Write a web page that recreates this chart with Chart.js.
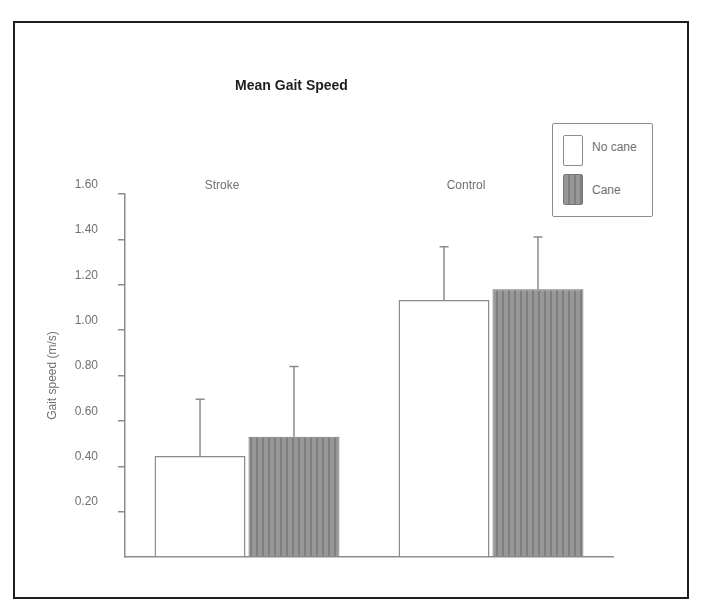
<!DOCTYPE html>
<html>
<head>
<meta charset="utf-8">
<script src="https://cdn.jsdelivr.net/npm/chart.js@4.4.1/dist/chart.umd.min.js"></script>
<style>
  html, body { margin: 0; padding: 0; background: #fff; width: 707px; height: 601px; overflow: hidden; position: relative; }
  #frame { position: absolute; left: 13px; top: 21px; width: 676px; height: 578px; border: 2px solid #1e1e1e; box-sizing: border-box; pointer-events: none; }
  #chart { position: absolute; left: -30px; top: 0; width: 737px; height: 601px; }
  #legend { position: absolute; left: 552px; top: 123px; width: 101px; height: 94px; border: 1.5px solid #8c8c8c; border-radius: 2px; box-sizing: border-box; background: #fff; font-family: 'Liberation Sans', Arial, sans-serif; font-size: 12px; color: #707070; }
  .sw { position: absolute; left: 10px; width: 20px; height: 31px; box-sizing: border-box; border-radius: 2px; }
  .lt { position: absolute; left: 39px; line-height: 14px; white-space: nowrap; }
</style>
</head>
<body>
<canvas id="chart" width="737" height="601"></canvas>
<div id="frame"></div>
<div id="legend"></div>
<script>
// ---- data ----
const categories = ['Stroke', 'Control'];
const seriesNames = ['No cane', 'Cane'];
const noCaneMeans = [0.445, 1.133];
const caneMeans = [0.53, 1.18];
const noCaneSD = [0.25, 0.235];
const caneSD = [0.31, 0.23];
const chartTitle = 'Mean Gait Speed';
const yAxisTitle = 'Gait speed (m/s)';

// ---- styles ----
const FONT = "'Liberation Sans', Arial, sans-serif";
const AXIS_GRAY = '#8c8c8c';
const TEXT_GRAY = '#707070';

function stripePattern() {
  const c = document.createElement('canvas');
  c.width = 6; c.height = 4;
  const g = c.getContext('2d');
  g.fillStyle = '#979797'; g.fillRect(0, 0, 6, 4);
  g.fillStyle = '#7f7f7f'; g.fillRect(4, 0, 2, 4);
  return g.createPattern(c, 'repeat');
}

const errorBars = {
  id: 'errorBars',
  afterDatasetsDraw(chart) {
    const ctx = chart.ctx;
    const yScale = chart.scales.y;
    ctx.save();
    ctx.strokeStyle = AXIS_GRAY;
    ctx.lineWidth = 1.5;
    chart.data.datasets.forEach((ds, i) => {
      const meta = chart.getDatasetMeta(i);
      meta.data.forEach((bar, j) => {
        const top = yScale.getPixelForValue(ds.data[j] + ds.sd[j]);
        ctx.beginPath();
        ctx.moveTo(bar.x, bar.y);
        ctx.lineTo(bar.x, top);
        ctx.moveTo(bar.x - 4.5, top);
        ctx.lineTo(bar.x + 4.5, top);
        ctx.stroke();
      });
    });
    ctx.restore();
  }
};

const chart = new Chart(document.getElementById('chart'), {
  type: 'bar',
  data: {
    labels: categories,
    datasets: [
      { label: seriesNames[0], data: noCaneMeans, sd: noCaneSD,
        backgroundColor: '#ffffff', borderColor: AXIS_GRAY, borderWidth: 1.5 },
      { label: seriesNames[1], data: caneMeans, sd: caneSD,
        backgroundColor: stripePattern(), borderColor: '#727272', borderWidth: 1 }
    ]
  },
  options: {
    responsive: false,
    animation: false,
    devicePixelRatio: 1,
    layout: { padding: { left: 0, right: 94, top: 0, bottom: 44 } },
    datasets: { bar: { categoryPercentage: 0.77, barPercentage: 0.968 } },
    plugins: {
      legend: { display: false },
      tooltip: { enabled: false },
      title: {
        display: true, text: chartTitle, color: '#1e1e1e',
        font: { family: FONT, size: 14, weight: 'bold' },
        padding: { top: 77.6, bottom: 79.6 }
      }
    },
    scales: {
      x: {
        type: 'category', position: 'bottom', offset: true,
        grid: { display: false, drawTicks: false },
        border: { display: true, color: AXIS_GRAY, width: 1.5 },
        ticks: { display: false },
        afterFit(s) { s.height = 0; }
      },
      x2: {
        type: 'category', position: 'top', offset: true, labels: categories,
        grid: { display: false, drawTicks: false, tickLength: 0 },
        border: { display: false },
        ticks: { color: TEXT_GRAY, font: { family: FONT, size: 12 }, padding: 1, labelOffset: -25, maxRotation: 0 },
        afterFit(s) { s.height = 20; }
      },
      y: {
        type: 'linear', position: 'left', min: 0, max: 1.6,
        grid: {
          drawOnChartArea: false, tickLength: 7, lineWidth: 1.5,
          color: (c) => (c.tick && c.tick.value === 0) ? 'rgba(0,0,0,0)' : AXIS_GRAY
        },
        border: { display: true, color: AXIS_GRAY, width: 1.5 },
        ticks: {
          stepSize: 0.2, padding: 20, labelOffset: -9.5, color: TEXT_GRAY,
          font: { family: FONT, size: 12 },
          callback: (v) => v === 0 ? '' : Number(v).toFixed(2)
        },
        title: {
          display: true, text: yAxisTitle, color: TEXT_GRAY,
          font: { family: FONT, size: 12 },
          padding: { top: 75.8, bottom: 0 }
        },
        afterFit(s) { s.width = 155; }
      }
    }
  },
  plugins: [errorBars]
});

// ---- HTML legend built from chart datasets ----
const swatchStyles = [
  'background:#fff;border:1.5px solid #8c8c8c;',
  'background:repeating-linear-gradient(90deg,#979797 0 4px,#7f7f7f 4px 6px);border:1px solid #777;'
];
const legendTops = [[11, 16], [50, 59]];
const legendEl = document.getElementById('legend');
chart.data.datasets.forEach((ds, i) => {
  const sw = document.createElement('div');
  sw.className = 'sw';
  sw.style.cssText += swatchStyles[i] + 'top:' + legendTops[i][0] + 'px;';
  const t = document.createElement('div');
  t.className = 'lt';
  t.style.top = legendTops[i][1] + 'px';
  t.textContent = ds.label;
  legendEl.appendChild(sw);
  legendEl.appendChild(t);
});
</script>
</body>
</html>
